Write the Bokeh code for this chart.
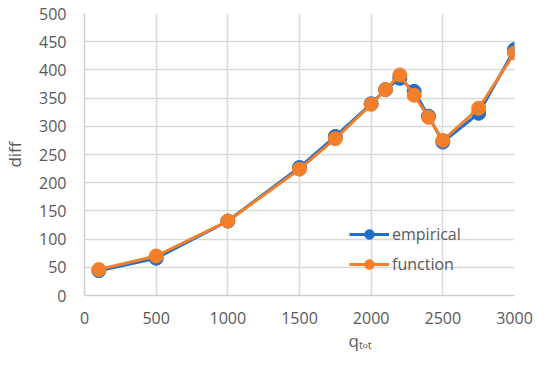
from bokeh.plotting import figure
from bokeh.models import Range1d, Legend, LegendItem, SingleIntervalTicker, Title
from bokeh.embed import file_html
from bokeh.resources import INLINE

q_tot = [100, 500, 1000, 1500, 1750, 2000, 2100, 2200, 2300, 2400, 2500, 2750, 3000]
empirical = [44, 66, 132, 227, 282, 340, 365, 385, 362, 318, 272, 323, 436]
function = [46, 70, 132, 224, 278, 339, 365, 391, 355, 316, 275, 332, 430]

x_title = "q\u209c\u2092\u209c"   # q with subscript "tot"
y_title = "diff"

BLUE = "#1E6FC9"
ORANGE = "#F47F2A"
TEXT = "#595959"
FONT = "Open Sans"

p = figure(width=534, height=351, output_backend="svg", toolbar_location=None,
           x_range=Range1d(0, 3000), y_range=Range1d(0, 500),
           min_border_left=76, min_border_right=20, min_border_top=13, min_border_bottom=55)
p.outline_line_color = None
p.background_fill_color = "white"

for ax in (p.xaxis[0], p.yaxis[0]):
    ax.major_label_text_font = FONT
    ax.major_label_text_font_size = "16px"
    ax.major_label_text_color = TEXT
    ax.major_tick_line_color = None
    ax.minor_tick_line_color = None
    ax.axis_line_color = "#D0D0D0"
    ax.axis_line_width = 1.5

p.xaxis[0].ticker = SingleIntervalTicker(interval=500)
p.yaxis[0].ticker = SingleIntervalTicker(interval=50)
p.xaxis[0].major_label_standoff = 10
p.yaxis[0].major_label_standoff = 12

p.yaxis[0].axis_label = y_title
p.yaxis[0].axis_label_text_font = FONT
p.yaxis[0].axis_label_text_font_size = "17px"
p.yaxis[0].axis_label_text_font_style = "normal"
p.yaxis[0].axis_label_text_color = TEXT
p.yaxis[0].axis_label_standoff = 10

p.xgrid.grid_line_color = "#D9D9D9"
p.ygrid.grid_line_color = "#D9D9D9"
p.xgrid.grid_line_width = 1.5
p.ygrid.grid_line_width = 1.5

l1 = p.line(q_tot, empirical, line_color=BLUE, line_width=3)
c1 = p.scatter(q_tot, empirical, size=14, fill_color=BLUE, line_color=BLUE)
l2 = p.line(q_tot, function, line_color=ORANGE, line_width=3)
c2 = p.scatter(q_tot, function, size=14, fill_color=ORANGE, line_color=ORANGE)

legend = Legend(items=[LegendItem(label="empirical", renderers=[l1, c1]),
                       LegendItem(label="function", renderers=[l2, c2])],
                location=(265, 19), background_fill_alpha=0, border_line_color=None,
                label_text_font=FONT, label_text_font_size="16px", label_text_color=TEXT,
                glyph_width=40, glyph_height=24, spacing=6, label_standoff=3)
p.add_layout(legend, "center")

p.add_layout(Title(text=x_title, align="left", offset=264, standoff=0,
                   text_font=FONT, text_font_size="17px", text_font_style="normal",
                   text_color=TEXT), "below")

open("out.html", "w").write(file_html(p, INLINE))
